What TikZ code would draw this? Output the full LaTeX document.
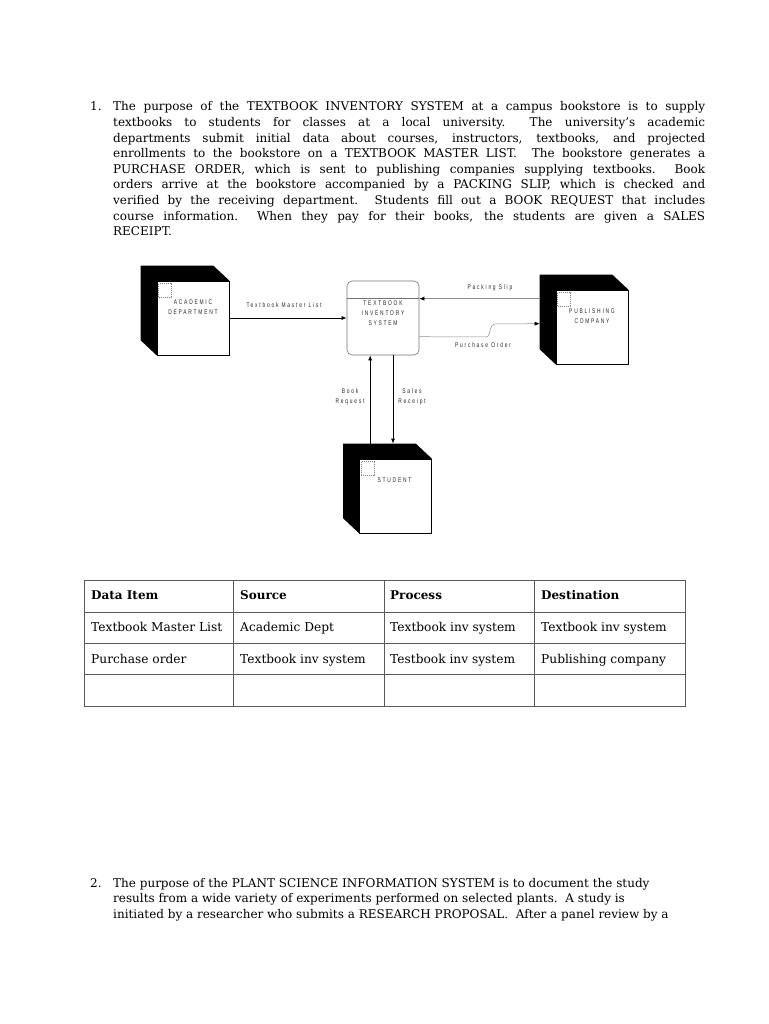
\documentclass[tikz,border=0pt]{standalone}
\usepackage{fontspec}
\setmainfont{DejaVu Serif}
\newfontfamily\dfdfont[FakeStretch=0.72,LetterSpace=26]{Liberation Sans}
\usetikzlibrary{arrows.meta,calc,backgrounds}
\begin{document}
\begin{tikzpicture}[x=1pt,y=-1pt,
  txt/.style={inner sep=0pt,anchor=base west,font=\fontsize{12}{14}\selectfont},
  entity/.style={draw=black,line width=0.7pt,fill=white,minimum width=72pt,minimum height=74pt,inner sep=0pt},
  procbox/.style={draw=black!55,line width=0.6pt,rounded corners=5pt,minimum width=72pt,minimum height=74pt,inner sep=0pt},
  dlabel/.style={inner sep=0pt,align=center,text=black!85,font=\dfdfont\fontsize{6.8}{10}\selectfont},
  flow/.style={line width=0.8pt,-{Latex[length=5pt,width=4pt]}},
  gflow/.style={draw=black!45,line width=0.5pt,-{Latex[length=5pt,width=4pt,fill=black,color=black]}},
  shade/.style={fill=black},
  dotbox/.style={draw=black!50,line width=0.5pt,dash pattern=on 1pt off 1pt},
  grid/.style={draw=black!65,line width=0.8pt},
  cell/.style={inner sep=0pt,anchor=base west,font=\fontsize{12.2}{14}\selectfont},
  hcell/.style={cell,font=\bfseries\fontsize{12}{14}\selectfont}
]
\useasboundingbox (0,0) rectangle (768,1024);
\begin{scope}[on background layer]
\fill[white] (0,0) rectangle (768,1024);
\end{scope}

% ---------- paragraph 1 ----------
\node[txt] (n1) at (90,111) {1.};
\newcommand\jl[1]{\makebox[592pt][s]{#1}}
\node[txt] (p1) at (113,111) {\jl{The purpose of the TEXTBOOK INVENTORY SYSTEM at a campus bookstore is to supply}};
\node[txt] (p2) at (113,126.6) {\jl{textbooks to students for classes at a local university.\ \ The university's academic}};
\node[txt] (p3) at (113,142.2) {\jl{departments submit initial data about courses, instructors, textbooks, and projected}};
\node[txt] (p4) at (113,157.8) {\jl{enrollments to the bookstore on a TEXTBOOK MASTER LIST.\ \ The bookstore generates a}};
\node[txt] (p5) at (113,173.4) {\jl{PURCHASE ORDER, which is sent to publishing companies supplying textbooks.\ \ Book}};
\node[txt] (p6) at (113,189) {\jl{orders arrive at the bookstore accompanied by a PACKING SLIP, which is checked and}};
\node[txt] (p7) at (113,204.6) {\jl{verified by the receiving department.\ \ Students fill out a BOOK REQUEST that includes}};
\node[txt] (p8) at (113,220.2) {\jl{course information.\ \ When they pay for their books, the students are given a SALES}};
\node[txt] (p9) at (113,235.8) {RECEIPT.};

% ---------- diagram ----------
\node[entity] (acad) at (193,318) {};
\node[entity] (pub) at (592,327) {};
\node[entity] (stud) at (395.5,496) {};
\node[procbox] (proc) at (383,318) {};

\begin{scope}[on background layer]
\foreach \e in {acad,pub,stud}{
  \fill[shade] ($(\e.north west)+(-16,-15)$) -- ($(\e.north east)+(-16,-15)$) -- (\e.north east)
     -- (\e.south west) -- ($(\e.south west)+(-16,-15)$) -- cycle;
}
\end{scope}
\foreach \e in {acad,pub,stud}{
  \draw[dotbox] ($(\e.north west)+(2,3)$) rectangle ($(\e.north west)+(15,17)$);
}

\node[dlabel,anchor=north] (acadt) at ($(acad.north)+(0,19)$) {ACADEMIC\\DEPARTMENT};
\node[dlabel,anchor=north] (pubt) at ($(pub.north)+(0,19)$) {PUBLISHING\\COMPANY};
\node[dlabel,anchor=north] (studt) at ($(stud.north)+(-1,19)$) {STUDENT};

\draw[black!55,line width=0.5pt] ($(proc.north west)+(0,18)$) -- ($(proc.north east)+(0,18)$);
\node[dlabel,anchor=north] (proct) at ($(proc.north)+(0,20)$) {TEXTBOOK\\INVENTORY\\SYSTEM};

% connectors
\draw[flow] (acad.east) -- (proc.west);
\node[dlabel] (lml) at (284,305) {Textbook Master List};

\coordinate (pubps) at ($(pub.north west)+(-16,9)$);
\draw[gflow] (pubps) -- (pubps -| proc.east);
\node[dlabel] (lps) at (490,288) {Packing Slip};

\coordinate (procpo) at ($(proc.north east)+(0,56)$);
\coordinate (pubpo) at ($(pub.north west)+(-16,34)$);
\draw[gflow] (procpo) -- (486,337) .. controls (491,337) and (489,324) .. (495,324) -- (pubpo);
\node[dlabel] (lpo) at (483,345) {Purchase Order};

\coordinate (studbr) at ($(stud.north west)+(11,-15)$);
\draw[flow] (studbr) -- (studbr |- proc.south);
\node[dlabel] (lbr) at (350,397) {Book\\Request};

\coordinate (procsr) at ($(proc.south)+(10,0)$);
\draw[flow] (procsr) -- (procsr |- studbr);
\node[dlabel] (lsr) at (412,397) {Sales\\Receipt};

% ---------- table ----------
\draw[grid] (84,580) rectangle (685,706);
\foreach \y in {612,643,674}{ \draw[grid] (84,\y) -- (685,\y); }
\foreach \x in {233,384,534}{ \draw[grid] (\x,580) -- (\x,706); }

\node[hcell] (h1) at (91,599) {Data Item};
\node[hcell] (h2) at (240,599) {Source};
\node[hcell] (h3) at (390,599) {Process};
\node[hcell] (h4) at (541,599) {Destination};
\node[cell] (a1) at (91,631) {Textbook Master List};
\node[cell] (a2) at (240,631) {Academic Dept};
\node[cell] (a3) at (390,631) {Textbook inv system};
\node[cell] (a4) at (541,631) {Textbook inv system};
\node[cell] (b1) at (91,663) {Purchase order};
\node[cell] (b2) at (240,663) {Textbook inv system};
\node[cell] (b3) at (390,663) {Testbook inv system};
\node[cell] (b4) at (541,663) {Publishing company};

% ---------- paragraph 2 ----------
\node[txt] (n2) at (90,887) {2.};
\node[txt] (q1) at (113,887) {The purpose of the PLANT SCIENCE INFORMATION SYSTEM is to document the study};
\node[txt] (q2) at (113,902.6) {results from a wide variety of experiments performed on selected plants.\ \ A study is};
\node[txt] (q3) at (113,918.2) {initiated by a researcher who submits a RESEARCH PROPOSAL.\ \ After a panel review by a};
\end{tikzpicture}
\end{document}
